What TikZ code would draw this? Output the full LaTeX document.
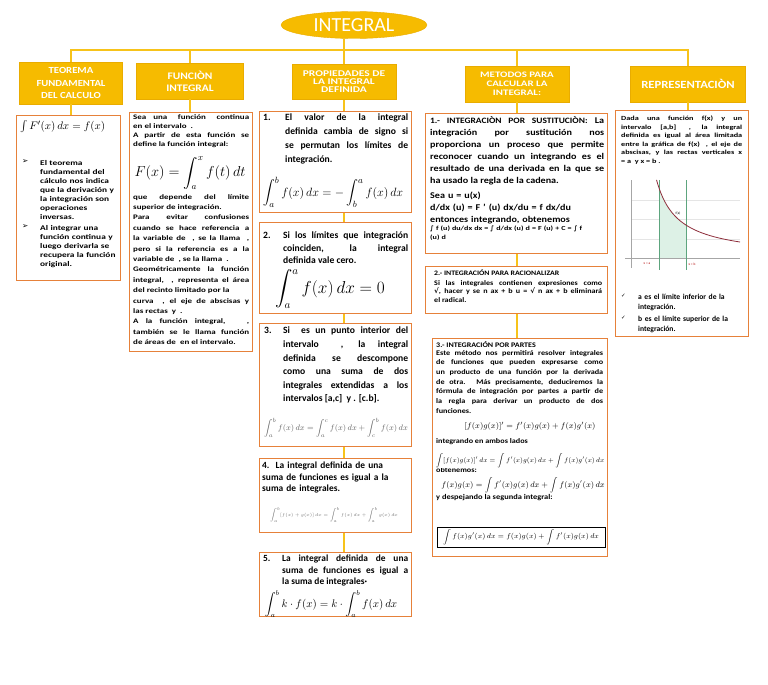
\documentclass[tikz,border=0pt]{standalone}
\usepackage{exscale}
\usepackage{fontspec}
\setmainfont{Carlito}
\newfontfamily\midfont[FakeStretch=1.15]{Carlito}
\newfontfamily\widefont[FakeStretch=1.3]{Carlito}
\newfontfamily\symfont{DejaVu Sans}
\usetikzlibrary{shapes.geometric}

\definecolor{gold}{HTML}{F6BB00}
\definecolor{goldedge}{HTML}{E9AC00}
\definecolor{linkgold}{HTML}{F7C31A}
\definecolor{boxorange}{HTML}{E6813A}
\definecolor{curvered}{HTML}{8E2F3C}
\definecolor{areagreen}{HTML}{DDF1E6}
\definecolor{linegreen}{HTML}{5DA57E}

\tikzset{
  link/.style={draw=linkgold, line width=2.4pt},
  headbox/.style={draw=goldedge, fill=gold, line width=0.8pt, text=white, align=center, inner sep=1pt},
  cbox/.style={draw=boxorange, line width=1.4pt, fill=white, inner sep=0pt, anchor=north west},
  btext/.style={anchor=north west, inner sep=0pt, align=justify},
  eq/.style={inner sep=0pt},
}

\begin{document}
\begin{tikzpicture}[x=1pt,y=-1pt]
\useasboundingbox (0,0) rectangle (768,685);

% title and headings
\node[ellipse, fill=gold, draw=goldedge, minimum width=146pt, minimum height=27pt, inner sep=0pt,
  text=white, font=\fontsize{20}{22}\selectfont] (integral) at (354,25) {INTEGRAL};
\node[headbox, minimum width=103pt, minimum height=42pt, font=\midfont\fontsize{9.3}{12.4}\bfseries]
  (teorema) at (71,83) {TEOREMA\\FUNDAMENTAL\\DEL CALCULO};
\node[headbox, minimum width=107pt, minimum height=36pt, font=\midfont\fontsize{10}{12.3}\bfseries]
  (funcion) at (190,81) {FUNCIÒN\\INTEGRAL};
\node[headbox, minimum width=104pt, minimum height=35pt, font=\widefont\fontsize{8.8}{8}\bfseries]
  (propiedades) at (344,82) {PROPIEDADES DE\\LA INTEGRAL\\DEFINIDA};
\node[headbox, minimum width=104pt, minimum height=36pt, font=\widefont\fontsize{8.4}{9}\bfseries]
  (metodos) at (517,84) {METODOS PARA\\CALCULAR LA\\INTEGRAL:};
\node[headbox, minimum width=115pt, minimum height=36pt, font=\midfont\fontsize{11}{13}\bfseries]
  (repre) at (688,84) {REPRESENTACIÒN};

% boxes
\node[cbox, minimum width=104pt, minimum height=165pt] (teo) at (16,115) {};
\node[cbox, minimum width=123pt, minimum height=239pt] (fun) at (129,112) {};
\node[cbox, minimum width=152pt, minimum height=101pt] (p1) at (259,111) {};
\node[cbox, minimum width=152pt, minimum height=91pt] (p2) at (259,222) {};
\node[cbox, minimum width=152pt, minimum height=123pt] (p3) at (259,323) {};
\node[cbox, minimum width=152pt, minimum height=74pt] (p4) at (259,458) {};
\node[cbox, minimum width=152pt, minimum height=64pt] (p5) at (259,552) {};
\node[cbox, minimum width=182pt, minimum height=140pt] (m1) at (425,113) {};
\node[cbox, minimum width=182pt, minimum height=47pt] (m2) at (425,266) {};
\node[cbox, minimum width=175pt, minimum height=218pt] (m3) at (432,338) {};
\node[cbox, minimum width=133pt, minimum height=226pt] (rep) at (615,110) {};

% teorema fundamental
\node[eq, anchor=north west, font=\fontsize{11}{13}\selectfont] (fteo) at (20,120) {$\int F'(x)\,dx = f(x)$};
\node[anchor=north west, inner sep=0pt, font=\symfont\fontsize{7.5}{9}\selectfont] (b1) at (22,159) {➢};
\node[btext, align=left, text width=80pt, font=\widefont\fontsize{7.2}{9}\bfseries] (tb1) at (40,160)
  {El teorema\\fundamental del\\cálculo nos indica\\que la derivación y\\la integración son\\operaciones\\inversas.};
\node[anchor=north west, inner sep=0pt, font=\symfont\fontsize{7.5}{9}\selectfont] (b2) at (22,224) {➢};
\node[btext, align=left, text width=80pt, font=\widefont\fontsize{7.2}{9}\bfseries] (tb2) at (40,225)
  {Al integrar una\\función continua y\\luego derivarla se\\recupera la función\\original.};

% funcion integral
\node[btext, text width=116pt, font=\widefont\fontsize{6.9}{9}\bfseries] (tf1) at (133,114)
  {Sea\quad una función continua\linebreak en el intervalo\ \ .\\ A partir de esta función se\linebreak define la función integral:};
\node[eq, font=\fontsize{13.3}{16}\selectfont] (ff) at (190,173) {$\displaystyle F(x) = \int_a^x f(t)\,dt$};
\node[btext, text width=116pt, font=\widefont\fontsize{6.9}{10.4}\bfseries] (tf2) at (133,194)
  {que depende del límite\linebreak superior de integración.\\
   Para evitar confusiones\linebreak cuando se hace referencia a\linebreak
   la variable de\ \ , se la llama\ \ ,\linebreak pero si la referencia es a la\linebreak
   variable de\ \ , se la llama\ \ .\\ Geométricamente la función\linebreak
   integral,\ \ , representa el área\linebreak del recinto limitado por la\\
   curva\ \ , el eje de abscisas y\linebreak las rectas\ \ y\ \ .\\
   A la función integral,\ \ \ ,\linebreak también se le llama función\linebreak
   de áreas de\ \ en el intervalo.};

% propiedades
\node[anchor=north west, inner sep=0pt, font=\fontsize{9.6}{14}\bfseries] (n1) at (263,114) {1.};
\node[btext, text width=123pt, font=\fontsize{9.6}{14}\bfseries] (t1) at (285,114)
  {El valor de la integral\linebreak definida cambia de signo si\linebreak se permutan los límites de\linebreak integración.};
\node[eq, font=\fontsize{13}{15}\selectfont] (f1) at (333,192) {$\displaystyle\int_a^b f(x)\,dx = -\int_b^a f(x)\,dx$};

\node[anchor=north west, inner sep=0pt, font=\fontsize{9.6}{12.5}\bfseries] (n2) at (263,232) {2.};
\node[btext, text width=125pt, font=\fontsize{9.6}{12.5}\bfseries] (t2) at (283,232)
  {Si los límites que integración\linebreak coinciden, la integral\linebreak definida vale cero.};
\node[eq, font=\fontsize{16}{19}\selectfont] (f2) at (330,289) {$\displaystyle\int_a^a f(x)\,dx = 0$};

\node[anchor=north west, inner sep=0pt, font=\fontsize{9.6}{13.6}\bfseries] (n3) at (264,327) {3.};
\node[btext, text width=125pt, font=\fontsize{9.6}{13.6}\bfseries] (t3) at (283,327)
  {Si\ \ es un punto interior del\linebreak intervalo\quad\ , la integral\linebreak definida se descompone\linebreak
   como una suma de dos\linebreak integrales extendidas a los\linebreak intervalos [a,c]\ \ y . [c.b].};
\node[eq, text=black!60, font=\fontsize{8.2}{10}\selectfont] (f3) at (336,428)
  {$\displaystyle\int_a^b f(x)\,dx = \int_a^c f(x)\,dx + \int_c^b f(x)\,dx$};

\node[btext, align=left, text width=146pt, font=\fontsize{9.4}{11.3}\bfseries] (t4) at (262,462)
  {4.\ \ La integral definida de una\\suma de funciones es igual a la\\suma de integrales.};
\node[eq, scale=0.87, transform shape, text=black!55, font=\fontsize{5.5}{7}\selectfont] (f4) at (334,515)
  {$\displaystyle\int_a^b [f(x)+g(x)]\,dx = \int_a^b f(x)\,dx + \int_a^b g(x)\,dx$};

\node[anchor=north west, inner sep=0pt, font=\fontsize{9.4}{11.3}\bfseries] (n5) at (263,555) {5.};
\node[btext, text width=126pt, font=\fontsize{9.4}{11.3}\bfseries] (t5) at (282,555)
  {La integral definida de una\linebreak suma de funciones es igual a\linebreak la suma de integrales·};
\node[eq, font=\fontsize{10.5}{12}\selectfont] (f5) at (331,604) {$\displaystyle\int_a^b k\cdot f(x) = k\cdot\int_a^b f(x)\,dx$};

% metodos
\node[btext, text width=174pt, font=\midfont\fontsize{8.8}{12}\bfseries] (m1a) at (430,116)
  {{\fontsize{8.2}{12}\selectfont 1.- INTEGRACIÒN POR SUSTITUCIÒN:} La\linebreak integración por sustitución nos\linebreak
   proporciona un proceso que permite\linebreak reconocer cuando un integrando es el\linebreak
   resultado de una derivada en la que se\linebreak ha usado la regla de la cadena.};
\node[btext, align=left, text width=174pt, font=\midfont\fontsize{8.8}{11.7}\bfseries] (m1b) at (430,192)
  {Sea u = u(x)\\ d/dx (u) = F ’ (u) dx/du = f dx/du\\ entonces integrando, obtenemos};
\node[btext, align=left, text width=174pt, font=\widefont\fontsize{6.2}{8.5}\bfseries] (m1c) at (430,226)
  {{\symfont∫} f (u) du/dx dx = {\symfont∫} d/dx (u) d = F (u) + C = {\symfont∫} f\\ (u) d};

\node[btext, align=left, font=\midfont\fontsize{6.8}{9}\bfseries] (m2a) at (434,270) {2.- INTEGRACIÓN PARA RACIONALIZAR};
\node[btext, text width=168pt, font=\midfont\fontsize{7}{8.7}\bfseries] (m2b) at (434,280)
  {Si las integrales contienen expresiones como\linebreak {\symfont√}, hacer y se n ax + b u = {\symfont√} n ax + b eliminará\linebreak el radical.};

\node[btext, align=left, font=\midfont\fontsize{7}{9}\bfseries] (m3a) at (436,341) {3.- INTEGRACIÓN POR PARTES};
\node[btext, text width=167pt, font=\midfont\fontsize{7.1}{9.7}\bfseries] (m3b) at (436,350)
  {Este método nos permitirá resolver integrales\linebreak de funciones que pueden expresarse como\linebreak
   un producto de una función por la derivada\linebreak de otra. Más precisamente, deduciremos la\linebreak
   fórmula de integración por partes a partir de\linebreak la regla para derivar un producto de dos\linebreak funciones.};
\node[eq, font=\fontsize{8.4}{10}\selectfont] (f6) at (530,426) {$[f(x)g(x)]' = f'(x)g(x) + f(x)g'(x)$};
\node[btext, align=left, font=\midfont\fontsize{7.1}{9}\bfseries] (m3c) at (436,438) {integrando en ambos lados};
\node[btext, align=left, font=\midfont\fontsize{7.1}{9}\bfseries] (m3d) at (436,467) {obtenemos:};
\node[eq, fill=white, scale=0.93, transform shape, font=\fontsize{6.9}{8}\selectfont] (f7) at (520,461)
  {$\displaystyle\int [f(x)g(x)]'\,dx = \int f'(x)g(x)\,dx + \int f(x)g'(x)\,dx$};
\node[eq, font=\fontsize{7.6}{9}\selectfont] (f8) at (523,485)
  {$\displaystyle f(x)g(x) = \int f'(x)g(x)\,dx + \int f(x)g'(x)\,dx$};
\node[btext, align=left, font=\midfont\fontsize{7.3}{9}\bfseries] (m3e) at (436,494) {y despejando la segunda integral:};
\node[draw, line width=0.5pt, minimum width=168pt, minimum height=20pt, inner sep=0pt, font=\fontsize{7}{9}\selectfont]
  (f9) at (521,537) {$\displaystyle\int f(x)g'(x)\,dx = f(x)g(x) + \int f'(x)g(x)\,dx$};

% representacion
\node[btext, text width=121pt, font=\widefont\fontsize{6.3}{8.5}\bfseries] (r1) at (621,116)
  {Dada una función f(x) y un\linebreak intervalo [a,b]\qquad , la integral\linebreak definida es igual al área limitada\linebreak
   entre la gráfica de f(x)\ \ , el eje de\linebreak abscisas, y las rectas verticales x\linebreak = a\ \ y x = b .};
\foreach \gy in {200,219,239} \draw[gray!20, line width=0.4pt] (631,\gy) -- (740,\gy);
\fill[areagreen] (659,258) -- plot[domain=659:686, samples=20] (\x,{258-1680/(\x-635)}) -- (686,258) -- cycle;
\draw[gray!70, line width=0.6pt] (631,180) -- (631,268);
\draw[gray!70, line width=0.6pt] (625,258) -- (740,258);
\draw[linegreen, line width=0.7pt] (659,180) -- (659,270);
\draw[linegreen, line width=0.7pt] (686,180) -- (686,270);
\draw[curvered, line width=0.8pt] plot[domain=656.5:740, samples=60, smooth] (\x,{258-1680/(\x-635)});
\node[inner sep=0pt, font=\fontsize{3.5}{4}\selectfont] (fx) at (678,213) {f(x)};
\node[inner sep=0pt, text=red!70!black, font=\fontsize{3.5}{4}\selectfont] (xa) at (647,264) {x = a};
\node[inner sep=0pt, text=red!70!black, font=\fontsize{3.5}{4}\selectfont] (xb) at (692,264) {x = b};
\node[anchor=north west, inner sep=0pt, font=\symfont\fontsize{5.5}{8}\selectfont] (k1) at (621,294) {✓};
\node[btext, align=left, text width=110pt, font=\fontsize{7.6}{10}\bfseries] (r2) at (638,294)
  {a es el límite inferior de la\\integración.};
\node[anchor=north west, inner sep=0pt, font=\symfont\fontsize{5.5}{8}\selectfont] (k2) at (621,316) {✓};
\node[btext, align=left, text width=110pt, font=\fontsize{7.6}{10}\bfseries] (r3) at (638,316)
  {b es el límite superior de la\\integración.};

% connectors
\coordinate (hub) at (344,50);
\draw[link] (teorema.north) |- (hub) -| (repre.north);
\draw[link] (funcion.north) -- (funcion.north |- hub);
\draw[link] (metodos.north) -- (metodos.north |- hub);
\draw[link] (integral.south -| hub) -- (propiedades.north);
\draw[link] (teorema.south) -- (teorema.south |- teo.north);
\draw[link] (funcion.south) -- (funcion.south |- fun.north);
\draw[link] (repre.south) -- (repre.south |- rep.north);
\foreach \a/\b in {propiedades/p1, p1/p2, p2/p3, p3/p4, p4/p5}
  \draw[link] (\a.south -| propiedades) -- (\b.north -| propiedades);
\foreach \a/\b in {metodos/m1, m1/m2, m2/m3}
  \draw[link] (\a.south -| metodos) -- (\b.north -| metodos);
\end{tikzpicture}
\end{document}
